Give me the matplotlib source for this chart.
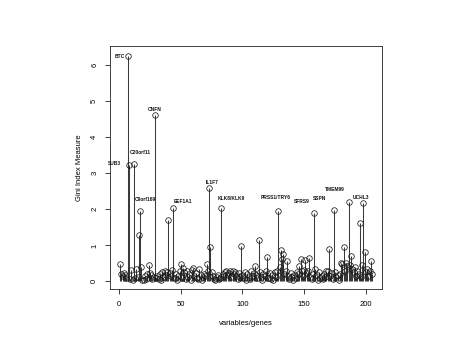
import matplotlib
matplotlib.use("Agg")
import matplotlib.pyplot as plt
import numpy as np

# Gini index per variable/gene (index 1..205)
gini = [
    0.49, 0.20, 0.15, 0.22, 0.18, 0.10, 6.25, 3.23, 0.08, 0.33,
    0.05, 3.27, 0.10, 0.35, 0.12, 1.28, 1.96, 0.39, 0.05, 0.03,
    0.15, 0.08, 0.20, 0.46, 0.22, 0.18, 0.06, 0.12, 4.61, 0.10,
    0.15, 0.08, 0.20, 0.05, 0.25, 0.12, 0.30, 0.18, 0.25, 1.69,
    0.22, 0.15, 0.32, 2.04, 0.10, 0.20, 0.05, 0.16, 0.28, 0.47,
    0.10, 0.38, 0.25, 0.08, 0.30, 0.12, 0.20, 0.05, 0.32, 0.38,
    0.15, 0.22, 0.10, 0.08, 0.35, 0.18, 0.05, 0.12, 0.20, 0.15,
    0.47, 0.28, 2.59, 0.96, 0.26, 0.15, 0.08, 0.03, 0.12, 0.18,
    0.06, 0.10, 2.05, 0.20, 0.14, 0.25, 0.30, 0.18, 0.22, 0.28,
    0.12, 0.30, 0.20, 0.25, 0.15, 0.08, 0.22, 0.12, 0.98, 0.18,
    0.10, 0.25, 0.05, 0.20, 0.12, 0.08, 0.30, 0.15, 0.22, 0.44,
    0.18, 0.10, 1.15, 0.25, 0.12, 0.05, 0.20, 0.15, 0.30, 0.69,
    0.10, 0.22, 0.08, 0.18, 0.05, 0.25, 0.12, 0.28, 1.95, 0.40,
    0.87, 0.61, 0.77, 0.20, 0.30, 0.56, 0.15, 0.08, 0.22, 0.12,
    0.05, 0.18, 0.10, 0.25, 0.20, 0.42, 0.61, 0.28, 0.15, 0.32,
    0.60, 0.22, 0.30, 0.65, 0.12, 0.08, 0.20, 1.91, 0.35, 0.18,
    0.05, 0.25, 0.10, 0.15, 0.08, 0.20, 0.12, 0.30, 0.28, 0.89,
    0.15, 0.22, 0.08, 1.98, 0.25, 0.12, 0.18, 0.05, 0.20, 0.50,
    0.48, 0.96, 0.30, 0.50, 0.42, 2.20, 0.45, 0.70, 0.35, 0.25,
    0.40, 0.15, 0.30, 0.20, 1.62, 0.12, 0.45, 2.18, 0.81, 0.25,
    0.35, 0.15, 0.30, 0.56, 0.20,
]

label_names = ["BTC", "SUB3", "C20orf11", "C9orf169", "CNFN", "EEF1A1", "IL1F7",
               "KLK8/KLK9", "PRSS1/TRY6", "SFRS9", "SSPN", "TMEM99", "UCHL3"]
label_index = [7, 8, 12, 17, 29, 44, 73, 83, 129, 147, 158, 174, 198]

# label placement (pixel offsets from the point, alignment)
label_style = {
    "BTC": (-3, 0, "right"),
    "SUB3": (-14, 1, "center"),
    "C20orf11": (6.5, 11.5, "center"),
    "C9orf169": (5, 11, "center"),
    "CNFN": (0, 6, "center"),
    "EEF1A1": (10, 6, "center"),
    "IL1F7": (3, 6, "center"),
    "KLK8/KLK9": (9.5, 9.5, "center"),
    "PRSS1/TRY6": (-2.5, 13.5, "center"),
    "SFRS9": (1.7, 57.6, "center"),
    "SSPN": (5.7, 13.6, "center"),
    "TMEM99": (1, 20.4, "center"),
    "UCHL3": (-2.7, 5.5, "center"),
}

plt.rcParams['font.family'] = ['Liberation Sans', 'DejaVu Sans']

W, H = 474, 354
fig = plt.figure(figsize=(W / 100, H / 100), dpi=100)
ax = fig.add_axes([110 / W, (H - 289) / H, (382 - 110) / W, (289 - 46) / H])

x = np.arange(1, len(gini) + 1)
y = np.array(gini)

ax.vlines(x, 0, y, colors="#3a3a3a", linewidth=0.75)
ax.plot(x, y, linestyle="none", marker="o", markersize=4.0,
        markerfacecolor="none", markeredgecolor="#1a1a1a", markeredgewidth=0.55)

for name, idx in zip(label_names, label_index):
    dx, dy, ha = label_style[name]
    ax.annotate(name, xy=(idx, gini[idx - 1]), xytext=(dx, dy),
                textcoords="offset pixels", ha=ha, va="center",
                fontsize=3.5, fontweight="bold", color="#111111")

ax.set_xlim(-7.3, 213.0)
ax.set_ylim(-0.21, 6.53)
ax.set_xticks([0, 50, 100, 150, 200])
ax.set_yticks([0, 1, 2, 3, 4, 5, 6])
ax.set_yticklabels(["0", "1", "2", "3", "4", "5", "6"], rotation=90, va="center")

for s in ax.spines.values():
    s.set_linewidth(0.6)
    s.set_color("#222222")
ax.tick_params(axis="both", length=3.5, width=0.6, color="#222222",
               labelsize=5.5, pad=5)

ax.set_xlabel("variables/genes", fontsize=5.5, labelpad=9)
ax.set_ylabel("Gini Index Measure", fontsize=5.5, labelpad=6)

fig.savefig("out.png", dpi=100)
